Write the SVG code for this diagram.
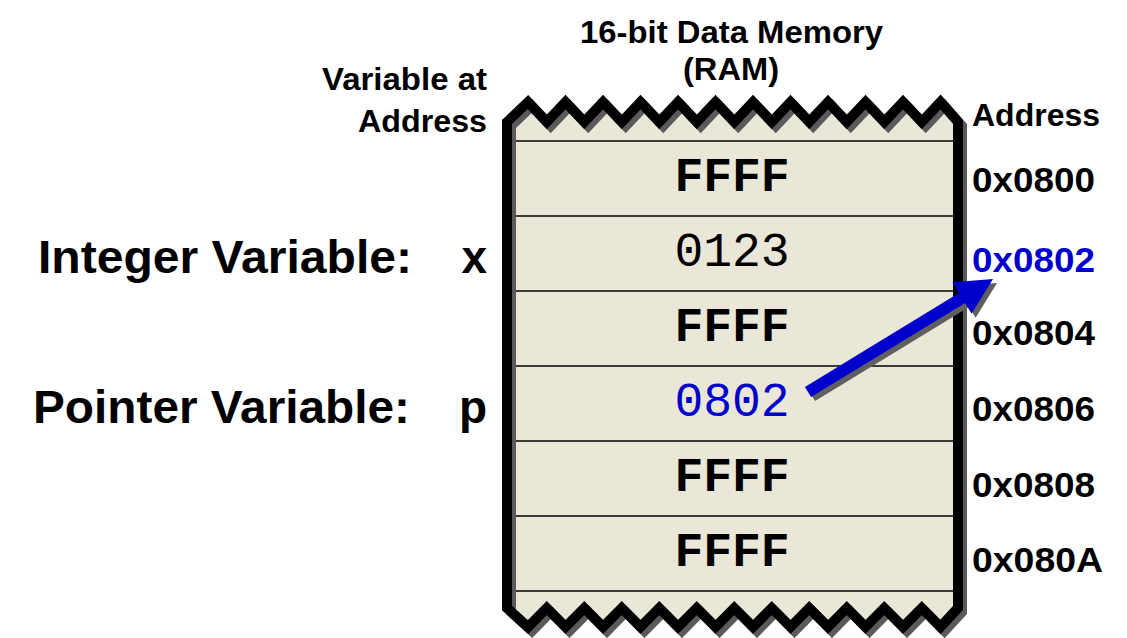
<svg xmlns="http://www.w3.org/2000/svg" width="1127" height="638" viewBox="0 0 1127 638">
<style>
.lbl{font-family:"Liberation Sans",Arial,sans-serif;font-weight:bold;fill:#000}
.big{font-size:46px}
.sm{font-size:31px}
.addr{font-size:35px}
.mono{font-family:"Liberation Mono","Courier New",monospace;font-size:48px;text-anchor:middle}
.b{font-weight:bold}
.blue{fill:#0000CC}
.row{stroke:#000;stroke-width:1.5}
</style>
<defs>
<path id="mem" d="M507 122 L528 102 L546.75 122 L565.5 102 L584.25 122 L603 102 L621.75 122 L640.5 102 L659.25 122 L678 102 L696.75 122 L715.5 102 L734.25 122 L753 102 L771.75 122 L790.5 102 L809.25 122 L828 102 L846.75 122 L865.5 102 L884.25 122 L903 102 L921.75 122 L940.5 102 L958 122 L958 608 L940.5 627 L921.75 608 L903 627 L884.25 608 L865.5 627 L846.75 608 L828 627 L809.25 608 L790.5 627 L771.75 608 L753 627 L734.25 608 L715.5 627 L696.75 608 L678 627 L659.25 608 L640.5 627 L621.75 608 L603 627 L584.25 608 L565.5 627 L546.75 608 L528 627 L507 608 Z"/>
<polygon id="arr" points="811.1,397.1 965.1,303.1 971.6,313.8 993,279 952.4,282.2 958.9,292.9 804.9,386.9"/>
</defs>
<g id="titles">
<text class="lbl sm" x="580" y="43" textLength="303" lengthAdjust="spacingAndGlyphs">16-bit Data Memory</text>
<text class="lbl sm" x="683" y="80" textLength="96" lengthAdjust="spacingAndGlyphs">(RAM)</text>
<text class="lbl sm" x="322" y="90" textLength="165" lengthAdjust="spacingAndGlyphs">Variable at</text>
<text class="lbl sm" x="358" y="132" textLength="129" lengthAdjust="spacingAndGlyphs">Address</text>
<text class="lbl sm" x="972" y="126" textLength="128" lengthAdjust="spacingAndGlyphs">Address</text>
</g>
<g id="memory">
<use href="#mem" fill="#EAE7D8"/>
<line class="row" x1="507" y1="141" x2="958" y2="141"/>
<line class="row" x1="507" y1="216" x2="958" y2="216"/>
<line class="row" x1="507" y1="291" x2="958" y2="291"/>
<line class="row" x1="507" y1="366" x2="958" y2="366"/>
<line class="row" x1="507" y1="441" x2="958" y2="441"/>
<line class="row" x1="507" y1="516" x2="958" y2="516"/>
<line class="row" x1="507" y1="591" x2="958" y2="591"/>
<use href="#mem" fill="none" stroke="#5A5A5A" stroke-width="10" transform="translate(4,4)"/>
<use href="#mem" fill="none" stroke="#000" stroke-width="10"/>
</g>
<g id="cells">
<text class="mono b" x="732" y="191">FFFF</text>
<text class="mono" x="732" y="266">0123</text>
<text class="mono b" x="732" y="341">FFFF</text>
<text class="mono blue" x="732" y="416">0802</text>
<text class="mono b" x="732" y="491">FFFF</text>
<text class="mono b" x="732" y="566">FFFF</text>
</g>
<g id="addresses">
<text class="lbl addr" x="972" y="192" textLength="123" lengthAdjust="spacingAndGlyphs">0x0800</text>
<text class="lbl addr blue" x="972" y="272" textLength="123" lengthAdjust="spacingAndGlyphs">0x0802</text>
<text class="lbl addr" x="972" y="345" textLength="123" lengthAdjust="spacingAndGlyphs">0x0804</text>
<text class="lbl addr" x="972" y="421" textLength="123" lengthAdjust="spacingAndGlyphs">0x0806</text>
<text class="lbl addr" x="972" y="497" textLength="123" lengthAdjust="spacingAndGlyphs">0x0808</text>
<text class="lbl addr" x="972" y="572" textLength="131" lengthAdjust="spacingAndGlyphs">0x080A</text>
</g>
<g id="variables">
<text class="lbl big" x="38" y="273" textLength="374" lengthAdjust="spacingAndGlyphs">Integer Variable:</text>
<text class="lbl big" x="487" y="273" text-anchor="end">x</text>
<text class="lbl big" x="33" y="423" textLength="377" lengthAdjust="spacingAndGlyphs">Pointer Variable:</text>
<text class="lbl big" x="487" y="423" text-anchor="end">p</text>
</g>
<g id="connectors">
<use href="#arr" fill="#5F5F5F" transform="translate(4,4)"/>
<use href="#arr" fill="#0000CC"/>
</g>
</svg>
